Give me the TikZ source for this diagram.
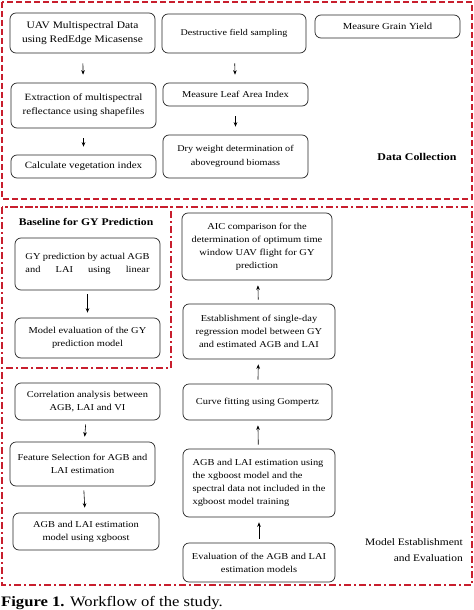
\documentclass[tikz,border=0pt]{standalone}
\usepackage{fontspec}
\setmainfont{Liberation Serif}[FakeStretch=1.15]
\usetikzlibrary{arrows.meta}
\definecolor{dred}{RGB}{200,30,45}
\begin{document}
\begin{tikzpicture}[x=1bp,y=-1bp,
  box/.style={draw=black!85, line width=0.7bp, rounded corners=6bp, align=center,
    font=\fontsize{9.1}{13}\selectfont, inner sep=2bp},
  arr/.style={-{Stealth[length=4.5bp,width=3.6bp]}, line width=0.6bp, shorten >=5bp, shorten <=4bp},
  arrdc/.style={arr, shorten >=8bp, shorten <=10bp},
  dcframe/.style={draw=dred, line width=2bp, dash pattern=on 6bp off 3bp},
  meframe/.style={draw=dred, line width=1.6bp, dash pattern=on 7bp off 3bp on 2bp off 3bp},
  ttl/.style={font=\fontsize{10.4}{12}\selectfont\bfseries},
]
\useasboundingbox (0,0) rectangle (474,610);
\clip (0,0) rectangle (474,610);

% frames
\draw[dcframe] (2,2) rectangle (472,199);
\draw[meframe] (2,207) rectangle (472,585);
\draw[meframe] (2,207) rectangle (171,368);

% Data collection
\node[box, minimum width=145bp, minimum height=40bp, font=\fontsize{10}{14}\selectfont] (uav) at (82.5,33) {UAV Multispectral Data\\using RedEdge Micasense};
\node[box, minimum width=145bp, minimum height=45bp, font=\fontsize{9.6}{14}\selectfont] (ext) at (83.5,105.5) {Extraction of multispectral\\reflectance using shapefiles};
\node[box, minimum width=145bp, minimum height=23bp, font=\fontsize{9.6}{13}\selectfont] (veg) at (83.5,166.5) {Calculate vegetation index};
\node[box, minimum width=144bp, minimum height=39bp, font=\fontsize{8.8}{12}\selectfont] (des) at (234,33.5) {Destructive field sampling};
\node[box, minimum width=145bp, minimum height=23bp, font=\fontsize{9.1}{12}\selectfont] (lai) at (235.5,94.5) {Measure Leaf Area Index};
\node[box, minimum width=145bp, minimum height=43bp, font=\fontsize{8.9}{14}\selectfont] (dry) at (235.5,156.5) {Dry weight determination of\\aboveground biomass};
\node[box, minimum width=145bp, minimum height=23bp, font=\fontsize{9.3}{12}\selectfont] (gy) at (387.5,26.5) {Measure Grain Yield};
\node[ttl] (dclab) at (417,157) {Data Collection};

\draw[arrdc] (uav) -- (ext);
\draw[arrdc] (ext) -- (veg);
\draw[arrdc] (des) -- (lai);
\draw[arrdc] (lai) -- (dry);

% Baseline
\node[ttl, font=\fontsize{10.2}{12}\selectfont\bfseries] (bllab) at (86,222) {Baseline for GY Prediction};
\node[box, minimum width=145bp, minimum height=52bp] (gyp) at (87.5,264) {\makebox[124bp][s]{GY prediction by actual AGB}\\\makebox[124bp][s]{and LAI using linear}};
\node[box, minimum width=145bp, minimum height=40bp] (mev) at (87.5,338) {Model evaluation of the GY\\prediction model};
\draw[arr] (gyp) -- (mev);

% Left column
\node[box, minimum width=145bp, minimum height=37bp] (cor) at (87.5,401.5) {Correlation analysis between\\AGB, LAI and VI};
\node[box, minimum width=145bp, minimum height=44bp] (fea) at (82.5,464) {Feature Selection for AGB and\\LAI estimation};
\node[box, minimum width=146bp, minimum height=37bp] (agbm) at (86,531.5) {AGB and LAI estimation\\model using xgboost};
\draw[arr] (cor) -- (fea);
\draw[arr] (fea) -- (agbm);

% Right column
\node[box, minimum width=150bp, minimum height=67bp] (aic) at (257,246.5) {AIC comparison for the\\determination of optimum time\\window UAV flight for GY\\prediction};
\node[box, minimum width=152bp, minimum height=55bp] (est) at (259,331.5) {Establishment of single-day\\regression model between GY\\and estimated AGB and LAI};
\node[box, minimum width=149bp, minimum height=36bp] (cur) at (257.5,402) {Curve fitting using Gompertz};
\node[box, minimum width=152bp, minimum height=68bp, align=left, inner xsep=9bp] (agbe) at (259,483) {AGB and LAI estimation using\\the xgboost model and the\\spectral data not included in the\\xgboost model training};
\node[box, minimum width=152bp, minimum height=39bp] (eva) at (259,562.5) {Evaluation of the AGB and LAI\\estimation models};
\draw[arr] (est) -- (aic);
\draw[arr] (cur) -- (est);
\draw[arr] (agbe) -- (cur);
\draw[arr] (eva) -- (agbe);

\node[align=right, anchor=east, inner sep=0pt, font=\fontsize{10}{16}\selectfont] (melab) at (463,550) {Model Establishment\\and Evaluation};

% caption
\node[anchor=base west, inner sep=0pt, font=\fontsize{14.5}{16}\selectfont] (cap) at (1,606) {\textbf{Figure 1.} Workflow of the study.};
\end{tikzpicture}
\end{document}
